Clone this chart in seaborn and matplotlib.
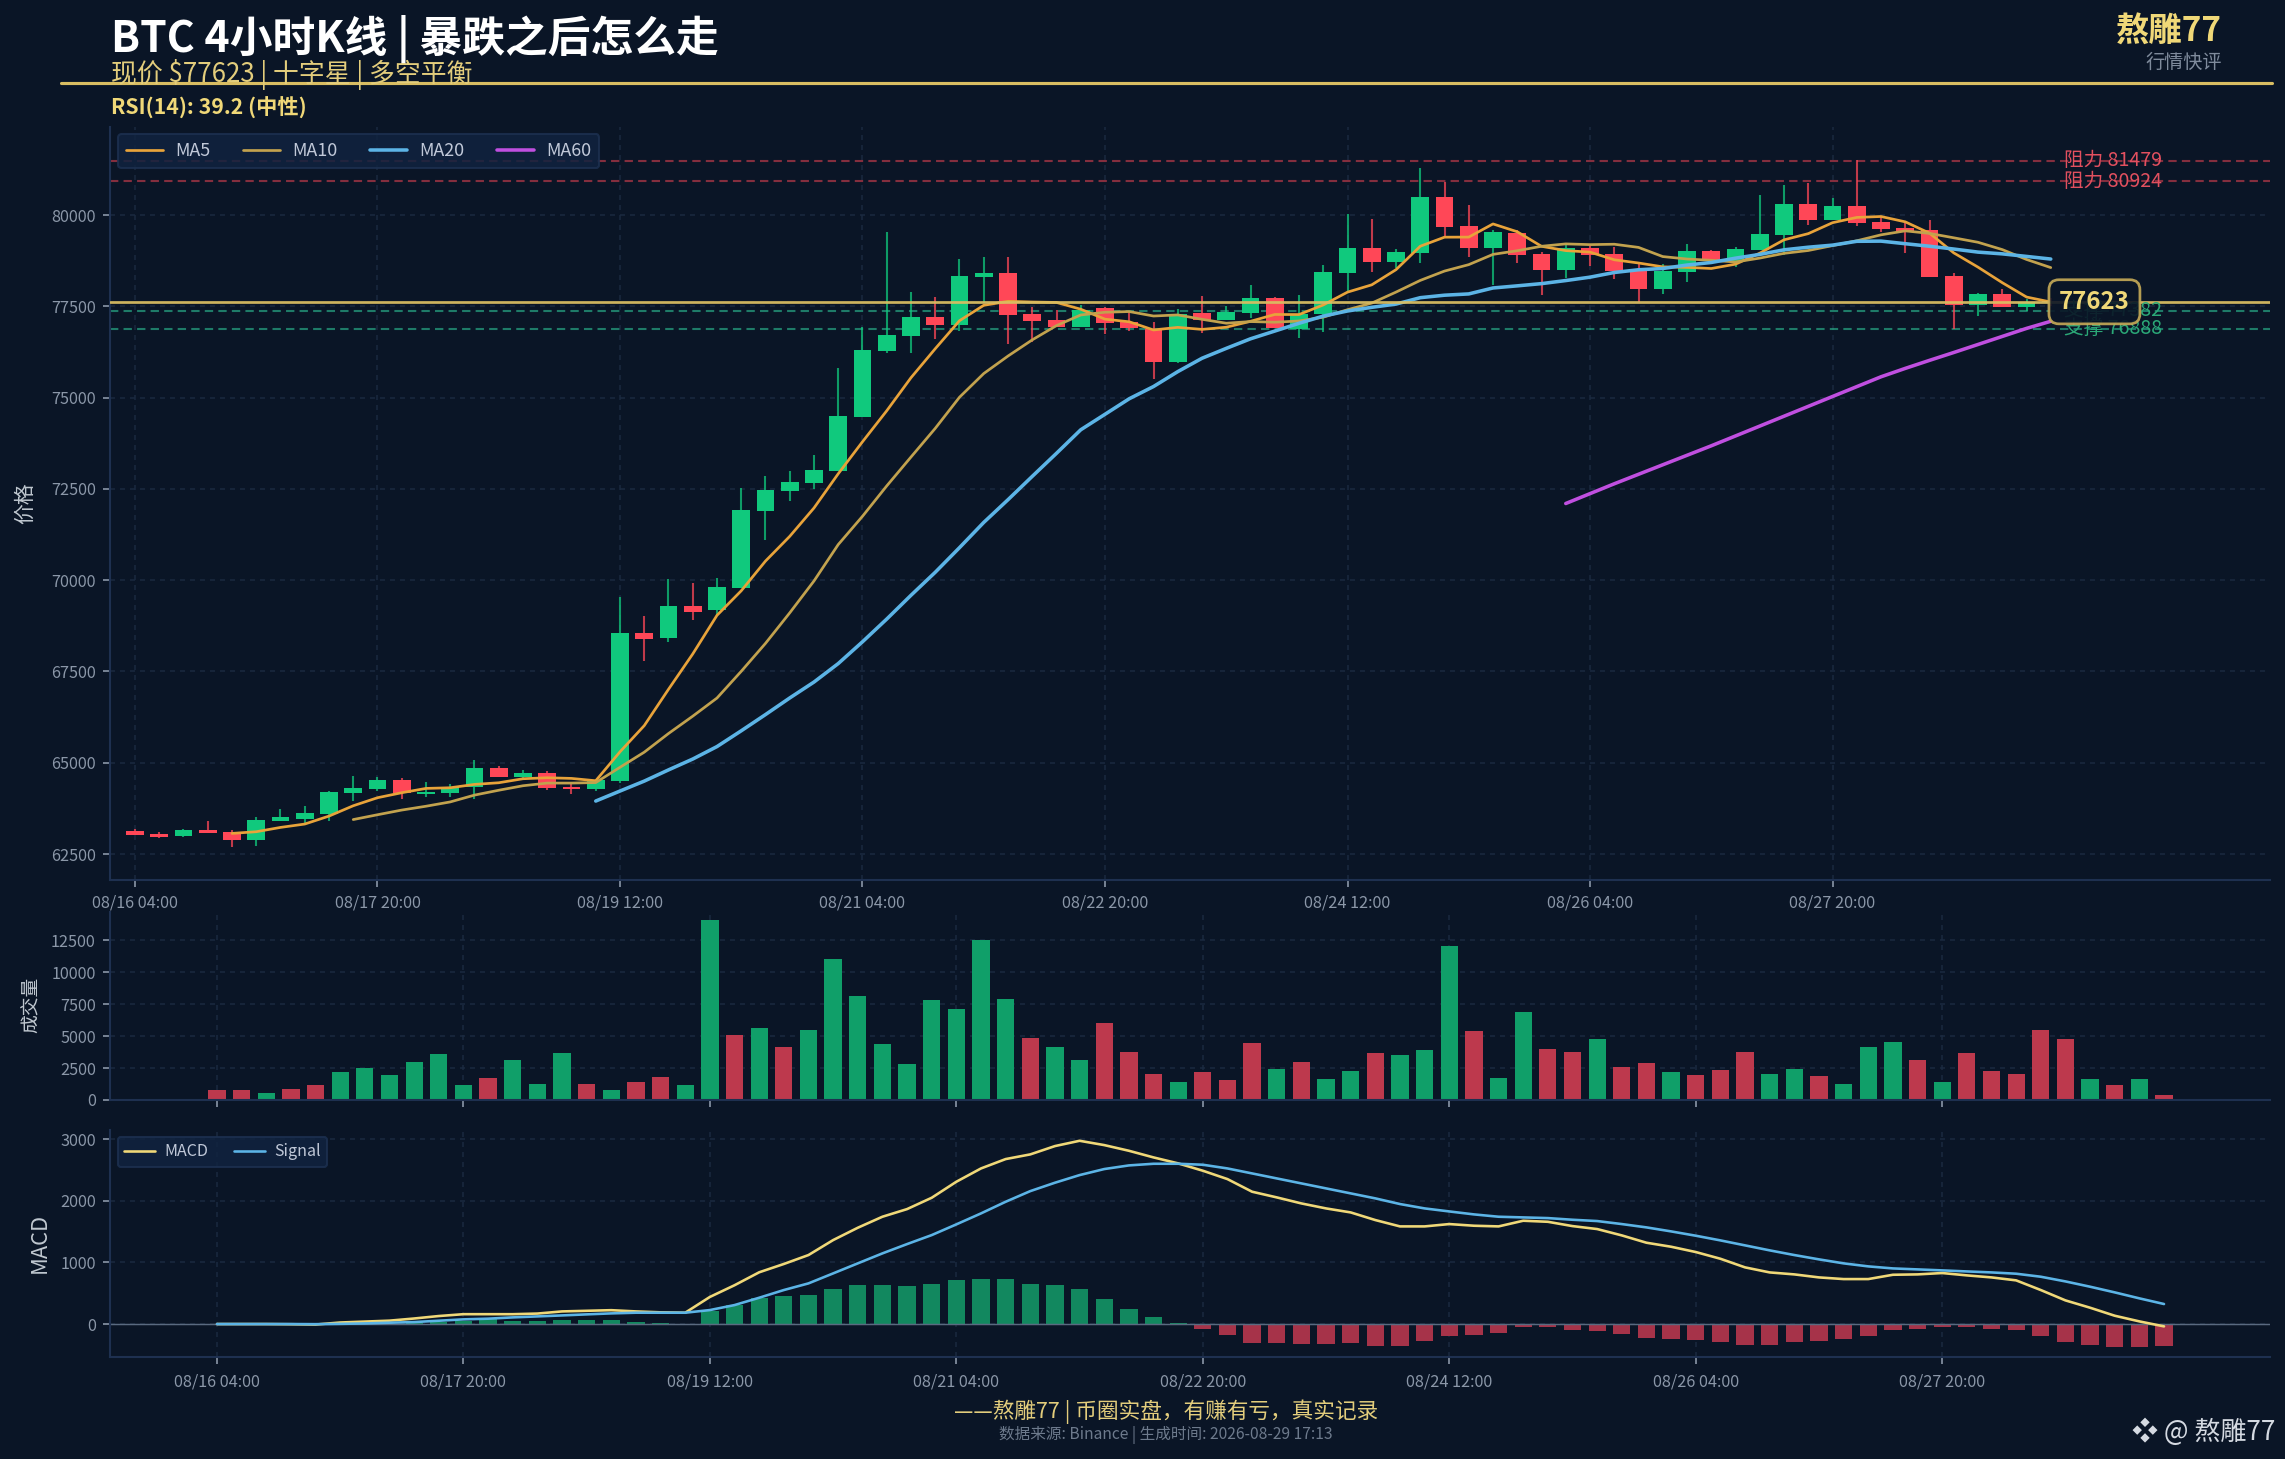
import numpy as np
import matplotlib
matplotlib.use("Agg")
import matplotlib.pyplot as plt
import seaborn as sns

open_ = [63130,63048,62993,63157,63102,62884,63395,63468,63595,64171,
         64271,64526,64134,64171,64344,64855,64599,64718,64344,64271,
         64499,68560,68415,69290,69180,69793,71902,72449,72659,72997,
         74475,76283,76684,77213,76985,78300,78409,77287,77122,76930,
         77442,77077,76876,75981,77323,77122,77323,77716,76885,77278,
         78418,79094,78711,78966,80490,79687,79103,79514,78920,78501,
         79085,78920,78501,77980,78446,79012,78738,79039,79450,80299,
         79860,80244,79806,79632,79587,78327,77542,77835,77487,77640]
close = [63020,62975,63157,63066,62884,63431,63522,63632,64198,64307,
         64526,64161,64198,64344,64855,64617,64718,64316,64289,64526,
         68560,68396,69290,69130,69812,71920,72468,72677,73015,74494,
         76301,76712,77204,76985,78327,78409,77259,77104,76930,77396,
         77049,76903,75981,77287,77122,77341,77716,76913,77278,78437,
         79094,78720,78984,80490,79678,79103,79523,78911,78501,79085,
         78902,78473,77971,78473,79012,78747,79066,79477,80299,79860,
         80244,79788,79605,79569,78309,77542,77835,77478,77606,77623]
high = [63175,63103,63175,63413,63157,63522,63723,63815,64235,64636,
        64599,64581,64472,64408,65074,64910,64791,64773,64417,64544,
        69546,69017,70030,69930,70049,72513,72851,72997,73426,75799,
        76921,79523,77889,77752,78793,78847,78847,77487,77396,77533,
        77487,77350,77058,77423,77780,77515,78081,77743,77807,78619,
        80025,79879,79057,81284,80910,80262,79587,79587,78994,79222,
        79149,79130,78720,78656,79194,79039,79112,80545,80819,80864,
        80454,81503,79970,79815,79861,78418,77853,77971,77688,77720]
low = [63020,62938,62975,63066,62683,62719,63395,63322,63413,63961,
       64235,64015,64070,64070,64015,64617,64581,64252,64143,64235,
       64453,67775,68300,68920,69050,69793,71098,72166,72486,72997,
       74475,76210,76228,76602,76830,77579,76465,76529,76930,76930,
       76748,76821,75507,75936,76776,77122,77186,76913,76639,76803,
       77853,78437,78546,78674,79404,78857,78090,78692,77816,78263,
       78601,78236,77606,77843,78163,78747,78583,79039,78902,79724,
       79860,79696,79541,78948,78309,76876,77232,77478,77360,77500]

ma5 = [63066,63112,63230,63322,63540,63823,64043,64180,64298,64316,64408,64453,64563,64590,64572,64508,
       65300,66017,67012,67980,69038,69710,70524,71201,71978,72915,73791,74640,75545,76339,77106,77527,
       77637,77617,77606,77420,77148,77076,76852,76923,76868,76927,77089,77276,77274,77537,77888,78088,
       78503,79145,79393,79395,79756,79541,79143,79025,78984,78774,78686,78581,78566,78535,78654,78955,
       79320,79490,79789,79934,79959,79813,79503,78963,78572,78147,77754,77617]
ma10 = [63445,63577,63705,63810,63928,64115,64248,64371,64444,64444,64458,64876,65290,65801,66276,66773,
        67505,68270,69106,69979,70976,71750,72582,73373,74158,75010,75659,76138,76581,76972,77263,77337,
        77356,77234,77264,77144,77037,77082,77064,77098,77202,77407,77588,77889,78209,78465,78641,78922,
        79022,79144,79209,79189,79200,79113,78862,78795,78760,78714,78820,78950,79028,79162,79294,79457,
        79566,79496,79376,79253,79053,78783,78560]
ma20 = [63952,64226,64498,64805,65102,65444,65876,66320,66775,67211,67717,68313,68936,69587,70217,70891,
        71582,72204,72843,73475,74119,74543,74969,75303,75711,76077,76348,76610,76822,77035,77232,77372,
        77472,77561,77736,77804,77839,78002,78060,78121,78205,78298,78426,78501,78535,78630,78700,78818,
        78921,79047,79118,79175,79280,79285,79214,79145,79068,78984,78936,78866,78794]
ma60 = [72100,72370,72640,72900,73160,73420,73680,73950,74220,74490,74760,75030,75300,75570,75800,
        76020,76235,76455,76675,76895,77090]

volume = [781,781,547,860,1172,2187,2500,1953,2969,3594,1172,1719,3125,1250,3672,1250,781,1406,1797,1172,
          14062,5078,5625,4140,5469,11015,8125,4375,2812,7812,7109,12500,7890,4844,4140,3125,6015,3750,2031,1406,
          2187,1562,4453,2422,2969,1640,2265,3672,3515,3906,12030,5390,1719,6875,3984,3750,4765,2578,2890,2187,
          1953,2343,3750,2031,2422,1875,1250,4140,4531,3125,1406,3672,2265,2031,5469,4765,1640,1172,1640,390]
hist = [0,0,0,0,0,0,0,0,16,27,54,76,49,49,65,65,65,32,16,5,
        211,308,416,454,470,568,633,633,617,649,714,730,730,649,633,568,406,243,114,16,
        -81,-178,-308,-308,-325,-325,-308,-362,-362,-276,-195,-178,-146,-49,-49,-97,-114,-162,-227,-243,
        -260,-292,-341,-346,-292,-276,-243,-195,-97,-81,-49,-49,-81,-97,-195,-292,-346,-379,-379,-362]
macd = [0,0,0,-3,-8,25,40,55,90,130,160,160,160,170,205,215,225,205,190,184,
        440,630,840,975,1120,1363,1563,1742,1866,2050,2310,2526,2678,2754,2889,2975,2905,2813,2705,2608,
        2489,2353,2148,2056,1958,1877,1812,1688,1585,1585,1623,1596,1585,1677,1660,1590,1542,1439,1320,1255,
        1169,1060,920,838,806,757,730,730,800,806,828,790,757,709,552,384,265,135,43,-38]
signal = [0,0,0,0,-2,3,10,22,32,54,76,87,108,124,140,157,173,184,184,184,
          227,308,427,552,660,822,985,1147,1298,1444,1618,1796,1985,2158,2294,2418,2516,2575,2602,2602,
          2586,2526,2445,2364,2283,2202,2121,2040,1948,1877,1828,1780,1742,1731,1720,1693,1672,1623,1569,1504,
          1434,1358,1277,1196,1120,1050,985,936,903,887,871,854,838,817,768,692,606,514,417,325]

tick_labels = ["08/16 04:00","08/17 20:00","08/19 12:00","08/21 04:00",
               "08/22 20:00","08/24 12:00","08/26 04:00","08/27 20:00"]
resistance = [81479, 80924]
support = [77382, 76888]
last_price = 77623

BG = "#0a1526"
GOLD = "#d9bd62"
LIGHT = "#f0d878"
GREEN = "#10c97d"
RED = "#ff4757"
SPINE = "#1e3050"
GRID = "#1a2a40"
TICK = "#8b97a8"
W, H = 2285, 1459

sns.set_theme(style="dark", rc={"figure.facecolor": BG, "axes.facecolor": BG, "savefig.facecolor": BG})
plt.rcParams["font.family"] = ["Noto Sans CJK SC", "DejaVu Sans"]

fig = plt.figure(figsize=(W / 150, H / 150), dpi=150)

def rect(top, bottom, left=110, right=2270):
    return [left / W, 1 - bottom / H, (right - left) / W, (bottom - top) / H]

ax1 = fig.add_axes(rect(127, 880))
ax2 = fig.add_axes(rect(912, 1100))
ax3 = fig.add_axes(rect(1130, 1357))

idx = np.arange(80)
o, c, hi, lo = map(np.array, (open_, close, high, low))
up = c >= o
dirs = np.where(up, "up", "down")
tick_pos = np.arange(0, 80, 10)

# candles
ax1.vlines(idx[up], lo[up], hi[up], color=GREEN, lw=1.0, alpha=0.75, zorder=2)
ax1.vlines(idx[~up], lo[~up], hi[~up], color=RED, lw=1.0, alpha=0.75, zorder=2)
ax1.bar(idx[up], (c - o)[up], bottom=o[up], width=0.74, color=GREEN, linewidth=0, zorder=2.2)
ax1.bar(idx[~up], (o - c)[~up], bottom=c[~up], width=0.74, color=RED, linewidth=0, zorder=2.2)

for val, xs, col, lw, name in [
    (ma5, np.arange(4, 80), "#e8a33a", 1.3, "MA5"),
    (ma10, np.arange(9, 80), "#c2a24e", 1.3, "MA10"),
    (ma20, np.arange(19, 80), "#5cb4e6", 1.7, "MA20"),
    (ma60, np.arange(59, 80), "#c04fe0", 1.7, "MA60"),
]:
    sns.lineplot(x=xs, y=val, color=col, linewidth=lw, label=name, ax=ax1, errorbar=None, zorder=3)

for v in resistance:
    ax1.axhline(v, color="#ff4757", lw=1.0, ls=(0, (4, 2.5)), alpha=0.5, zorder=1.5)
    ax1.text(79.55, v, f"阻力 {v}", color="#e2505f", fontsize=9.4, va="center", ha="left", zorder=4)
for v in support:
    ax1.axhline(v, color="#2fd0a0", lw=1.0, ls=(0, (4, 2.5)), alpha=0.55, zorder=1.5)
    ax1.text(79.55, v, f"支撑 {v}", color="#2ba877", fontsize=9.4, va="center", ha="left", zorder=4)
ax1.axhline(last_price, color=GOLD, lw=1.3, alpha=0.95, zorder=3.5)
ax1.text(80.8, last_price, f"{last_price}", color=LIGHT, fontsize=11.5, fontweight="bold", ha="center", va="center",
         zorder=6, bbox=dict(boxstyle="round,pad=0.42", fc=BG, ec="#c8ac58", lw=1.3, alpha=0.9))

ax1.set_xlim(-1.03, 88.04)
ax1.set_ylim(61790, 82410)
ax1.set_yticks(np.arange(62500, 80001, 2500))
ax1.set_xticks(tick_pos)
ax1.set_xticklabels(tick_labels)
leg = ax1.legend(loc="upper left", bbox_to_anchor=(8 / 2160, (880 - 134) / 753), bbox_transform=ax1.transAxes,
                 ncol=4, fontsize=8.6, handlelength=2.05, handletextpad=0.67, columnspacing=1.85,
                 borderaxespad=0, borderpad=0.45, facecolor="#11233f", edgecolor="#1c3050", framealpha=0.85,
                 labelcolor="#c0c8d8", fancybox=True)
leg.set_zorder(5)

# volume
sns.barplot(x=idx, y=volume, hue=dirs, palette={"up": "#109f69", "down": "#bd394d"}, dodge=False,
            native_scale=True, width=0.7, legend=False, errorbar=None, ax=ax2, zorder=2, saturation=1, linewidth=0)
ax2.set_xlim(-4.34, 83.3)
ax2.set_ylim(0, 14700)
ax2.set_yticks(np.arange(0, 12501, 2500))
ax2.set_xticks(tick_pos)
ax2.set_xticklabels([])

# MACD
hist_arr = np.array(hist)
sns.barplot(x=idx, y=hist, hue=np.where(hist_arr >= 0, "up", "down"),
            palette={"up": "#12885f", "down": "#a63349"}, dodge=False,
            native_scale=True, width=0.7, legend=False, errorbar=None, ax=ax3, zorder=2, saturation=1, linewidth=0)
ax3.axhline(0, color="#5a6a80", lw=0.7, zorder=2.5)
sns.lineplot(x=idx, y=macd, color="#f0d878", linewidth=1.25, label="MACD", ax=ax3, errorbar=None, zorder=3)
sns.lineplot(x=idx, y=signal, color="#5cb4e6", linewidth=1.25, label="Signal", ax=ax3, errorbar=None, zorder=3)
ax3.set_xlim(-4.34, 83.3)
ax3.set_ylim(-535, 3150)
ax3.set_yticks([0, 1000, 2000, 3000])
ax3.set_xticks(tick_pos)
ax3.set_xticklabels(tick_labels)
leg3 = ax3.legend(loc="upper left", bbox_to_anchor=(8 / 2160, (1357 - 1137) / 227), bbox_transform=ax3.transAxes,
                  ncol=2, fontsize=7.7, handlelength=1.9, handletextpad=0.6, columnspacing=1.6,
                  borderaxespad=0, borderpad=0.4, facecolor="#11233f", edgecolor="#1c3050", framealpha=0.85,
                  labelcolor="#c0c8d8")
leg3.set_zorder(5)

for ax in (ax1, ax2, ax3):
    ax.grid(True, color=GRID, lw=0.8, ls=(0, (3, 3)), alpha=0.9, zorder=0)
    ax.set_axisbelow(True)
    for s in ("top", "right"):
        ax.spines[s].set_visible(False)
    for s in ("left", "bottom"):
        ax.spines[s].set_color(SPINE)
        ax.spines[s].set_linewidth(1.0)
    ax.tick_params(axis="both", which="major", colors=TICK, labelsize=7.8, length=3.3, width=0.8, pad=3.5,
                   bottom=True, left=True)
    ax.set_xlabel("")
    ax.set_ylabel("")
ax3.tick_params(axis="x", pad=4.5)

# panel labels
fig.text(25 / W, 1 - 503 / H, "价格", color="#c0c8d0", fontsize=10, rotation=90, ha="center", va="center")
fig.text(31 / W, 1 - 1005 / H, "成交量", color="#c0c8d0", fontsize=9, rotation=90, ha="center", va="center")
fig.text(40 / W, 1 - 1243 / H, "MACD", color="#c0c8d0", fontsize=10.5, rotation=90, ha="center", va="center")

# header
fig.text(111 / W, 1 - 40 / H, "BTC 4小时K线 | 暴跌之后怎么走", color="white", fontsize=20.5, fontweight="bold",
         ha="left", va="center")
fig.text(111 / W, 1 - 75 / H, "现价 $77623 | 十字星 | 多空平衡", color="#e3cd7c", fontsize=12.4, ha="left", va="center")
fig.text(111 / W, 1 - 108 / H, "RSI(14): 39.2 (中性)", color=LIGHT, fontsize=10.2, fontweight="bold", ha="left", va="center")
fig.add_artist(plt.Line2D([61 / W, 2272 / W], [1 - 82.5 / H] * 2, color=GOLD, lw=1.5, transform=fig.transFigure))
fig.text(2222 / W, 1 - 32 / H, "熬雕77", color=LIGHT, fontsize=16, fontweight="bold", ha="right", va="center")
fig.text(2222 / W, 1 - 62 / H, "行情快评", color="#7f8b9c", fontsize=9.2, ha="right", va="center")

# footer
fig.text(1166 / W, 1 - 1412 / H, "——熬雕77 | 币圈实盘，有赚有亏，真实记录", color="#e3cd7c", fontsize=10.4, ha="center", va="center")
fig.text(1166 / W, 1 - 1435 / H, "数据来源: Binance | 生成时间: 2026-08-29 17:13", color="#6d7a8c", fontsize=7.5, ha="center", va="center")
fig.text(2275 / W, 1 - 1432 / H, "❖ @ 熬雕77", color="#d5dae2", fontsize=12.5, ha="right", va="center",
         family=["Noto Sans CJK SC", "DejaVu Sans"])

fig.savefig("out.png", dpi=150, facecolor=BG)
